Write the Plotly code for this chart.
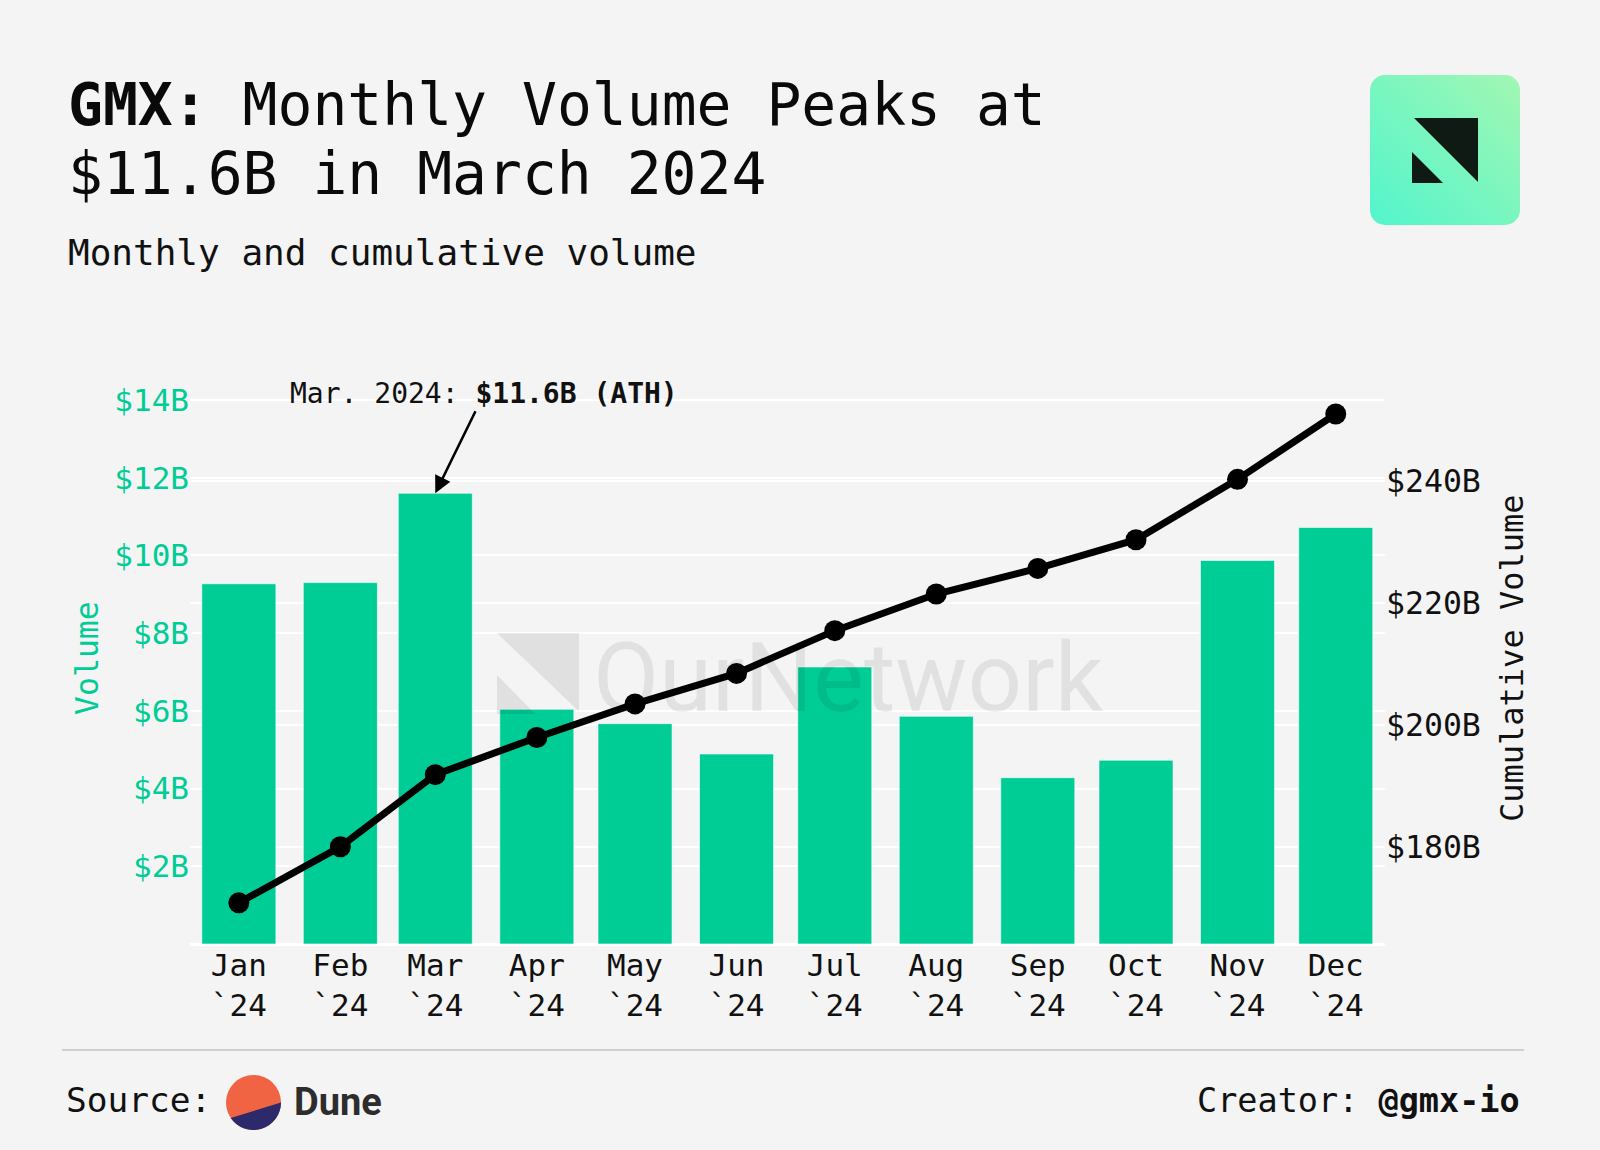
import base64
import plotly.graph_objects as go

# ---------------- data ----------------
months = ["2024-01-01", "2024-02-01", "2024-03-01", "2024-04-01", "2024-05-01", "2024-06-01",
          "2024-07-01", "2024-08-01", "2024-09-01", "2024-10-01", "2024-11-01", "2024-12-01"]
month_labels = ["Jan<br>`24", "Feb<br>`24", "Mar<br>`24", "Apr<br>`24", "May<br>`24", "Jun<br>`24",
                "Jul<br>`24", "Aug<br>`24", "Sep<br>`24", "Oct<br>`24", "Nov<br>`24", "Dec<br>`24"]
monthly_volume_b = [9.27, 9.30, 11.6, 6.04, 5.67, 4.89, 7.13, 5.86, 4.28, 4.73, 9.87, 10.72]
cumulative_volume_b = [170.8, 180.0, 191.8, 197.9, 203.4, 208.4, 215.4, 221.4, 225.6, 230.3, 240.2, 250.9]
left_ticks = [2, 4, 6, 8, 10, 12, 14]
left_tick_text = ["$2B", "$4B", "$6B", "$8B", "$10B", "$12B", "$14B"]
right_ticks = [180, 200, 220, 240]
right_tick_text = ["$180B", "$200B", "$220B", "$240B"]

# ---------------- layout constants ----------------
W, H = 1600, 1150
ML, MR, MT, MB = 190, 215, 372, 206
PW, PH = W - ML - MR, H - MT - MB
BG = "#f4f4f4"
GREEN = "#00cc96"
MONO = "DejaVu Sans Mono"


def px(x):
    return (x - ML) / PW


def py(y):
    return (H - MB - y) / PH


def svg_uri(svg):
    return "data:image/svg+xml;base64," + base64.b64encode(svg.encode()).decode()


fig = go.Figure()
fig.add_trace(go.Bar(
    x=months, y=monthly_volume_b, name="Volume",
    marker=dict(color=GREEN, line=dict(color="rgba(255,255,255,0.6)", width=1)),
    yaxis="y", showlegend=False,
))
fig.add_trace(go.Scatter(
    x=months, y=cumulative_volume_b, name="Cumulative Volume", mode="lines+markers",
    line=dict(color="#000000", width=7), marker=dict(color="#000000", size=21),
    yaxis="y2", showlegend=False,
))

fig.update_layout(
    width=W, height=H,
    margin=dict(l=ML, r=MR, t=MT, b=MB, pad=0),
    paper_bgcolor=BG, plot_bgcolor=BG,
    bargap=0.22,
    font=dict(family=MONO, color="#111111"),
    xaxis=dict(
        type="date", range=["2023-12-17 02:00", "2024-12-16 01:00"],
        tickvals=months, ticktext=month_labels, tickfont=dict(size=31, color="#111111"),
        showgrid=False, ticks="", showline=False, zeroline=False,
    ),
    yaxis=dict(
        range=[0, 14.72], tickvals=left_ticks, ticktext=left_tick_text,
        tickfont=dict(size=31, color=GREEN), showgrid=True, gridcolor="#ffffff", gridwidth=2,
        zeroline=True, zerolinecolor="#ffffff", zerolinewidth=3, ticks="", showline=False,
    ),
    yaxis2=dict(
        overlaying="y", side="right", range=[164.06, 257.78],
        tickvals=right_ticks, ticktext=right_tick_text, tickfont=dict(size=31.5, color="#111111"),
        showgrid=True, gridcolor="#ffffff", gridwidth=2, zeroline=False, ticks="", showline=False,
    ),
)

ann = []
# Title and subtitle
ann.append(dict(text="<b>GMX:</b> Monthly Volume Peaks at", x=px(66), y=py(105), xref="paper", yref="paper",
                xanchor="left", yanchor="middle", showarrow=False, font=dict(size=58, color="#0a0a0a")))
ann.append(dict(text="$11.6B in March 2024", x=px(66), y=py(174), xref="paper", yref="paper",
                xanchor="left", yanchor="middle", showarrow=False, font=dict(size=58, color="#0a0a0a")))
ann.append(dict(text="Monthly and cumulative volume", x=px(66), y=py(252), xref="paper", yref="paper",
                xanchor="left", yanchor="middle", showarrow=False, font=dict(size=36, color="#111111")))
# Axis titles
ann.append(dict(text="Volume", x=px(87), y=py(658), xref="paper", yref="paper", textangle=-90,
                xanchor="center", yanchor="middle", showarrow=False, font=dict(size=31.5, color=GREEN)))
ann.append(dict(text="Cumulative Volume", x=px(1512), y=py(658), xref="paper", yref="paper", textangle=-90,
                xanchor="center", yanchor="middle", showarrow=False, font=dict(size=32, color="#111111")))
# ATH annotation
ann.append(dict(text="Mar. 2024: <b>$11.6B (ATH)</b>", x=months[2], y=monthly_volume_b[2], xref="x", yref="y",
                ax=49, ay=-100, axref="pixel", ayref="pixel", showarrow=True, arrowhead=2, arrowsize=1.3,
                arrowwidth=2.6, arrowcolor="#000000", font=dict(size=28, color="#111111")))
# Watermark
ann.append(dict(text="OurNetwork", x=px(848), y=py(678), xref="paper", yref="paper", xanchor="center",
                yanchor="middle", showarrow=False, font=dict(family="Roboto", size=96, color="rgba(0,0,0,0.075)")))
# Footer
ann.append(dict(text="Source:", x=px(64), y=py(1100), xref="paper", yref="paper", xanchor="left",
                yanchor="middle", showarrow=False, font=dict(size=34.5, color="#111111")))
ann.append(dict(text="Dune", x=px(292), y=py(1102), xref="paper", yref="paper", xanchor="left",
                yanchor="middle", showarrow=False, font=dict(family="Roboto", size=38, color="#2d2d2d", weight="bold")))
ann.append(dict(text="Creator: <b>@gmx-io</b>", x=px(1522), y=py(1100), xref="paper", yref="paper",
                xanchor="right", yanchor="middle", showarrow=False, font=dict(size=33.5, color="#111111")))
fig.update_layout(annotations=ann)

fig.add_shape(type="line", xref="paper", yref="paper", x0=px(62), x1=px(1524), y0=py(1050), y1=py(1050),
              line=dict(color="#d2cece", width=2))

# Logos (decorative)
logo_svg = """<svg xmlns='http://www.w3.org/2000/svg' width='150' height='150' viewBox='0 0 150 150'>
<defs><linearGradient id='g' x1='1' y1='0' x2='0' y2='1'>
<stop offset='0' stop-color='#a2f7b2'/><stop offset='1' stop-color='#52f5cd'/></linearGradient></defs>
<rect x='0' y='0' width='150' height='150' rx='15' ry='15' fill='url(#g)'/>
<polygon points='44,43 108,43 108,107' fill='#0e1a13'/>
<polygon points='42,77 42,108 73,108' fill='#0e1a13'/></svg>"""
mark_svg = """<svg xmlns='http://www.w3.org/2000/svg' width='100' height='100' viewBox='0 0 100 100'>
<polygon points='0,0 100,0 100,97' fill='#000'/>
<polygon points='0,52 0,100 47,100' fill='#000'/></svg>"""
dune_svg = """<svg xmlns='http://www.w3.org/2000/svg' width='100' height='100' viewBox='0 0 100 100'>
<circle cx='50' cy='50' r='50' fill='#f16443'/>
<path d='M 100 50 A 50 50 0 0 1 8.55 77.96 Z' fill='#2c2a6b'/></svg>"""

fig.update_layout(images=[
    dict(source=svg_uri(logo_svg), xref="paper", yref="paper", x=px(1370), y=py(75),
         sizex=150 / PW, sizey=150 / PH, xanchor="left", yanchor="top", sizing="stretch", layer="above"),
    dict(source=svg_uri(mark_svg), xref="paper", yref="paper", x=px(497), y=py(633),
         sizex=82 / PW, sizey=81 / PH, xanchor="left", yanchor="top", sizing="stretch", layer="above",
         opacity=0.075),
    dict(source=svg_uri(dune_svg), xref="paper", yref="paper", x=px(226), y=py(1075),
         sizex=55 / PW, sizey=55 / PH, xanchor="left", yanchor="top", sizing="stretch", layer="above"),
])

fig.write_html("out.html", config={"displayModeBar": False},
               post_script="document.body.style.margin='0';document.body.style.background='#f4f4f4';")
